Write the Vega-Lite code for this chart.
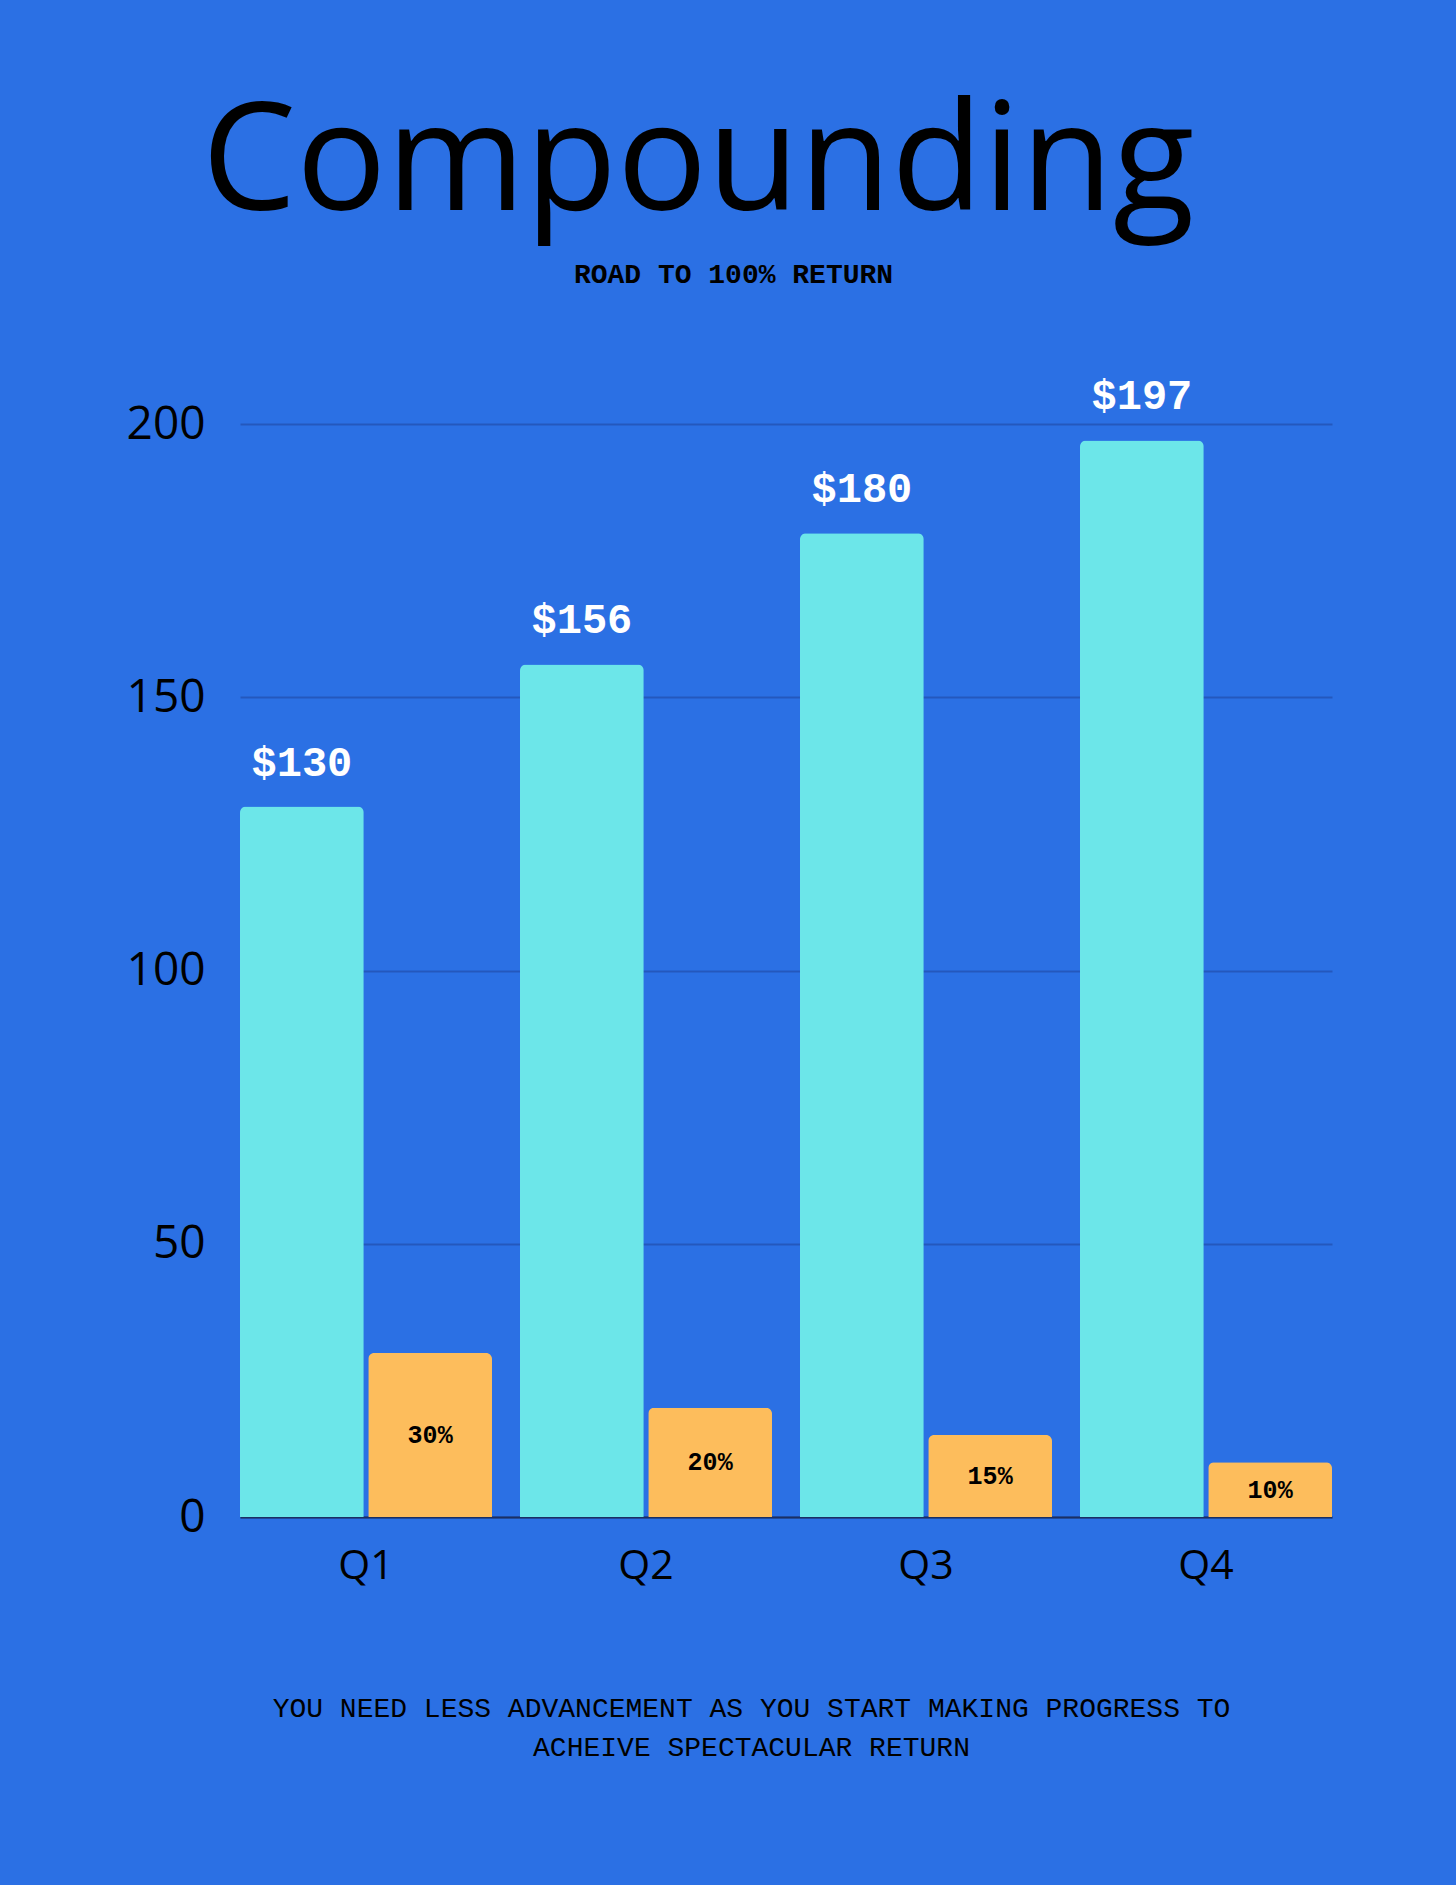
{
  "$schema": "https://vega.github.io/schema/vega-lite/v6.json",
  "autosize": {"type": "none"},
  "width": 1092,
  "height": 1093,
  "padding": {"left": 240, "top": 424, "right": 124, "bottom": 368},
  "background": "#2b70e4",
  "config": {
    "view": {"stroke": null},
    "font": "Open Sans"
  },
  "title": {
    "text": "Compounding",
    "font": "Open Sans",
    "fontSize": 150,
    "fontWeight": "normal",
    "color": "#000000",
    "anchor": "middle",
    "frame": "group",
    "baseline": "alphabetic",
    "dx": -88,
    "dy": 140,
    "offset": 40
  },
  "data": {
    "values": [
      {"quarter": "Q1", "series": "value", "amount": 130, "label": "$130"},
      {"quarter": "Q1", "series": "growth", "amount": 30, "label": "30%"},
      {"quarter": "Q2", "series": "value", "amount": 156, "label": "$156"},
      {"quarter": "Q2", "series": "growth", "amount": 20, "label": "20%"},
      {"quarter": "Q3", "series": "value", "amount": 180, "label": "$180"},
      {"quarter": "Q3", "series": "growth", "amount": 15, "label": "15%"},
      {"quarter": "Q4", "series": "value", "amount": 197, "label": "$197"},
      {"quarter": "Q4", "series": "growth", "amount": 10, "label": "10%"}
    ]
  },
  "encoding": {
    "x": {
      "field": "quarter", "type": "nominal",
      "scale": {"paddingInner": 0.1, "paddingOuter": 0},
      "axis": {
        "title": ["YOU NEED LESS ADVANCEMENT AS YOU START MAKING PROGRESS TO", "ACHEIVE SPECTACULAR RETURN"],
        "titleFont": "Liberation Mono",
        "titleFontSize": 28,
        "titleFontWeight": "normal",
        "titleColor": "#000000",
        "titleLineHeight": 39,
        "titleAlign": "center",
        "titleBaseline": "alphabetic",
        "titleX": 511,
        "titleY": 199,
        "labelAngle": 0,
        "labelFont": "Open Sans",
        "labelFontSize": 41,
        "labelColor": "#000000",
        "labelPadding": 29,
        "ticks": false,
        "domain": true,
        "domainColor": "#1b2f63",
        "domainWidth": 2
      }
    },
    "xOffset": {
      "field": "series", "type": "nominal",
      "scale": {"domain": ["value", "growth"], "paddingInner": 0.035, "paddingOuter": 0}
    }
  },
  "layer": [
    {
      "mark": {"type": "bar", "cornerRadiusTopLeft": 6, "cornerRadiusTopRight": 6},
      "encoding": {
        "y": {
          "field": "amount", "type": "quantitative",
          "scale": {"domain": [0, 200]},
          "axis": {
            "values": [0, 50, 100, 150, 200],
            "title": "ROAD TO 100% RETURN",
            "titleFont": "Liberation Mono",
            "titleFontSize": 28,
            "titleFontWeight": "bold",
            "titleColor": "#000000",
            "titleAngle": 0,
            "titleAlign": "center",
            "titleBaseline": "alphabetic",
            "titleX": 493,
            "titleY": -142,
            "labelFont": "Open Sans",
            "labelFontSize": 46,
            "labelColor": "#000000",
            "labelPadding": 35,
            "ticks": false,
            "domain": false,
            "grid": true,
            "gridColor": "#2458bd",
            "gridWidth": 2
          }
        },
        "color": {
          "field": "series", "type": "nominal",
          "scale": {"domain": ["value", "growth"], "range": ["#6ce6e9", "#fdbd5c"]},
          "legend": null
        }
      }
    },
    {
      "transform": [{"filter": "datum.series === 'value'"}],
      "mark": {
        "type": "text",
        "font": "Liberation Mono",
        "fontSize": 42,
        "fontWeight": "bold",
        "color": "#ffffff",
        "baseline": "alphabetic",
        "dy": -31
      },
      "encoding": {
        "y": {"field": "amount", "type": "quantitative"},
        "text": {"field": "label"}
      }
    },
    {
      "transform": [
        {"filter": "datum.series === 'growth'"},
        {"calculate": "datum.amount / 2", "as": "mid"}
      ],
      "mark": {
        "type": "text",
        "font": "Liberation Mono",
        "fontSize": 25,
        "fontWeight": "bold",
        "color": "#000000",
        "baseline": "middle"
      },
      "encoding": {
        "y": {"field": "mid", "type": "quantitative"},
        "text": {"field": "label"}
      }
    }
  ]
}
